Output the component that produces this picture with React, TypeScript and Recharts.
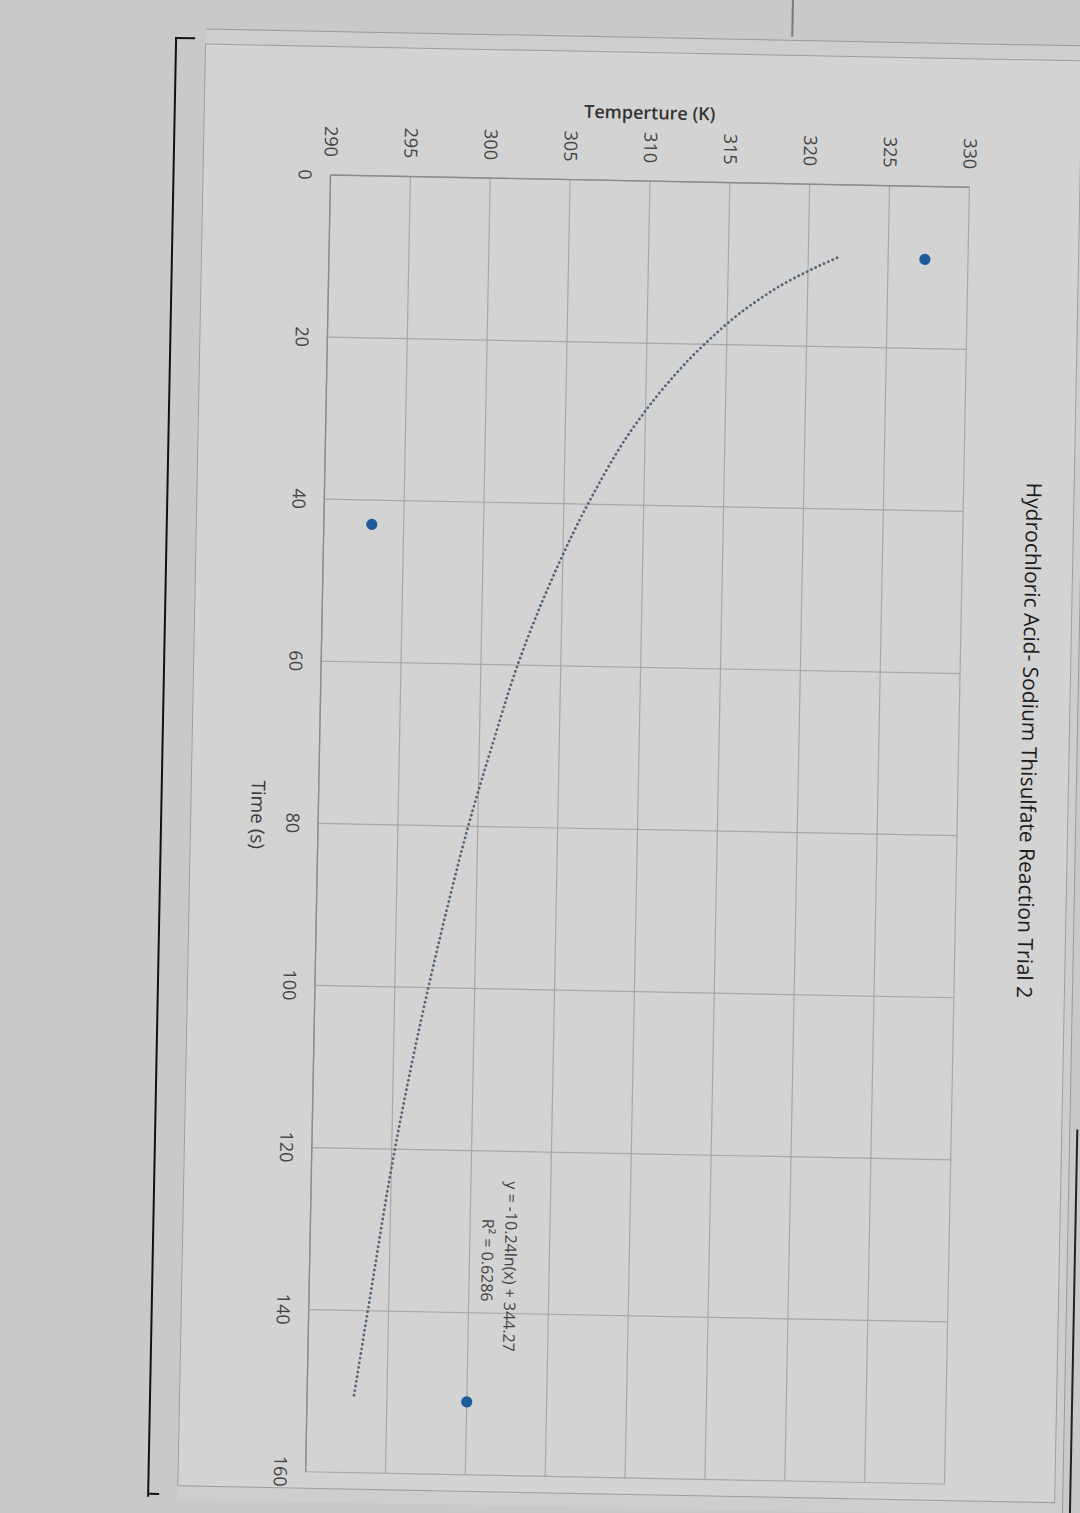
import React from "react";
import { ComposedChart, Scatter, Line, XAxis, YAxis, CartesianGrid } from "recharts";

// measured points
const timeValues = [9, 43, 151];
const tempValues = [327.3, 293, 300];

// dotted log trendline
const trendTimes = [9, 12, 15, 20, 25, 30, 40, 50, 60, 70, 80, 90, 100, 120, 140, 151];
const trendTemps = [321.8, 318.8, 316.5, 313.6, 311.3, 309.4, 306.5, 304.2, 302.3, 300.8, 299.4, 298.2, 297.1, 295.2, 293.7, 292.9];

const timeTicks = [0, 20, 40, 60, 80, 100, 120, 140, 160];
const tempTicks = [290, 295, 300, 305, 310, 315, 320, 325, 330];

const points = timeValues.map((t, i) => ({ t, k: tempValues[i] }));
const trend = trendTimes.map((t, i) => ({ t, k: trendTemps[i] }));

const font = "'Open Sans', 'Noto Sans', sans-serif";

// the photo is turned a quarter (and a bit) clockwise
const W = 1460;
const H = 890;
const CU = 788.5;
const CV = 426.5;
const PAGE_CX = 637.75;
const PAGE_CY = 829.75;

const centered = (u: number, v: number, extra = ""): React.CSSProperties => ({
  position: "absolute",
  left: u,
  top: v,
  transform: `translate(-50%, -50%) ${extra}`,
  whiteSpace: "nowrap",
  fontFamily: font,
});

const Dot = (props: any) => {
  const { cx, cy } = props;
  if (cx == null || cy == null) return null;
  return <circle cx={cx} cy={cy} r={5.6} fill="#1f5c99" />;
};

export default function App() {
  return (
    <div
      style={{
        position: "absolute",
        left: 0,
        top: 0,
        width: 1080,
        height: 1513,
        overflow: "hidden",
        background: "#c9c9c9",
      }}
    >
      <div
        style={{
          position: "absolute",
          left: PAGE_CX - CU,
          top: PAGE_CY - CV,
          width: W,
          height: H,
          transformOrigin: `${CU}px ${CV}px`,
          transform: "rotate(91.1deg)",
        }}
      >
        {/* window frame bits */}
        <div style={{ position: "absolute", left: -60, top: 286, width: 53, height: 1.5, background: "#7a7a7a" }} />
        <div
          style={{
            position: "absolute",
            left: -4,
            top: -12,
            width: 1470,
            height: 885,
            borderLeft: "1.5px solid #9a9a9a",
            borderTop: "1.5px solid #9a9a9a",
            background: "#cecece",
          }}
        />
        <div
          style={{
            position: "absolute",
            left: 11,
            top: -4,
            width: 1443,
            height: 878,
            border: "1.5px solid #9d9d9d",
            background: "#d3d3d3",
            boxSizing: "border-box",
          }}
        />
        <div
          style={{
            position: "absolute",
            left: 5,
            top: 884,
            width: 1458,
            height: 18,
            borderLeft: "2px solid #111",
            borderBottom: "2px solid #111",
          }}
        />
        <div style={{ position: "absolute", left: 1461, top: 892, width: 2, height: 10, background: "#111" }} />
        <div style={{ position: "absolute", left: 1080, top: -20, width: 390, height: 2, background: "#222" }} />

        <div style={{ position: "absolute", left: 0, top: 0 }}>
          <ComposedChart width={W} height={H} margin={{ top: 107, right: 23, bottom: 84, left: 0 }}>
            <CartesianGrid stroke="#a7a7a7" strokeWidth={1.2} />
            <XAxis
              type="number"
              dataKey="t"
              domain={[0, 160]}
              ticks={timeTicks}
              interval={0}
              allowDataOverflow
              height={60}
              tickLine={false}
              tickMargin={13}
              axisLine={{ stroke: "#8c8c8c", strokeWidth: 1.4 }}
              tick={{ fill: "#444", fontSize: 18, fontFamily: font }}
            />
            <YAxis
              type="number"
              dataKey="k"
              domain={[290, 330]}
              ticks={tempTicks}
              interval={0}
              allowDataOverflow
              width={140}
              tickLine={false}
              tickMargin={12}
              axisLine={{ stroke: "#8c8c8c", strokeWidth: 1.4 }}
              tick={{ fill: "#444", fontSize: 18, fontFamily: font }}
            />
            <Line
              data={trend}
              dataKey="k"
              type="monotone"
              stroke="#56677a"
              strokeWidth={2.8}
              strokeDasharray="0.1 4.6"
              strokeLinecap="round"
              dot={false}
              activeDot={false}
              isAnimationActive={false}
            />
            <Scatter data={points} dataKey="k" fill="#1f5c99" shape={<Dot />} isAnimationActive={false} />
          </ComposedChart>
        </div>

        <div style={{ ...centered(692, 36), fontSize: 21, color: "#1c1c1c" }}>
          Hydrochloric Acid- Sodium Thisulfate Reaction Trial 2
        </div>
        <div style={{ ...centered(71, 428, "rotate(-90deg)"), fontSize: 18, fontWeight: 600, color: "#333" }}>
          Temperture (K)
        </div>
        <div style={{ ...centered(781, 806), fontSize: 19, color: "#3a3a3a" }}>Time (s)</div>
        <div style={{ ...centered(1228, 545), fontSize: 16, color: "#444" }}>y = -10.24ln(x) + 344.27</div>
        <div style={{ ...centered(1222, 568), fontSize: 16, color: "#444" }}>
          R² = 0.6286
        </div>
      </div>
    </div>
  );
}
